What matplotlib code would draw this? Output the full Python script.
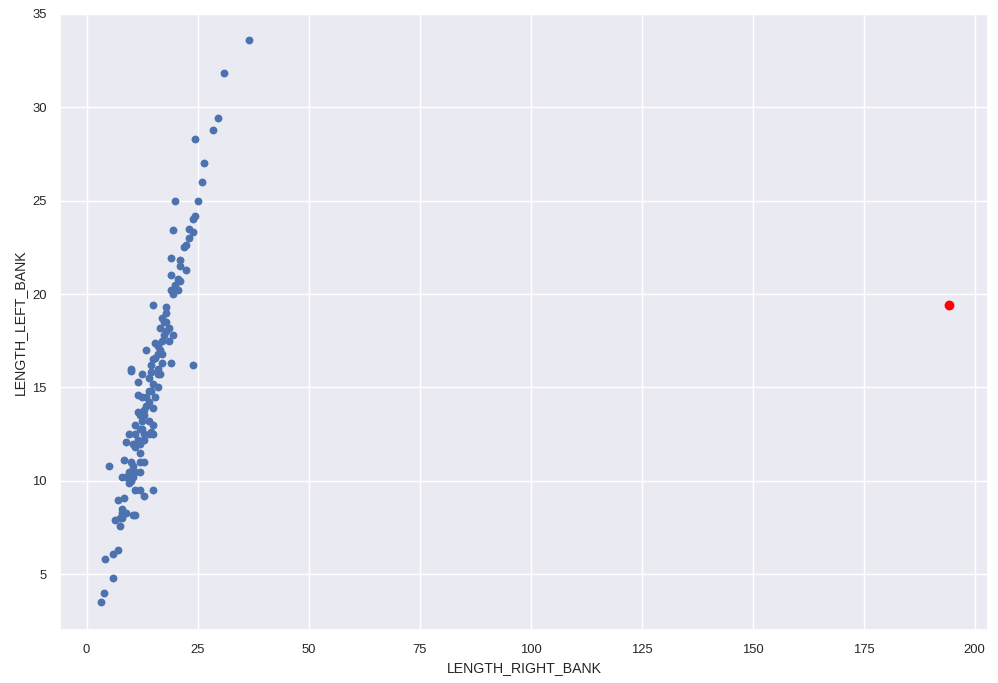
import matplotlib
matplotlib.use("Agg")
import matplotlib.pyplot as plt
import seaborn as sns

sns.set_theme(style="darkgrid", font_scale=0.85)
plt.rcParams['font.family'] = ['Liberation Sans', 'DejaVu Sans']

right_bank = [3.2,4,4.2,6,6,7,5,7,6.5,7.5,7.5,8,8,8.5,8,8.5,9,9,9.5,9.5,10,10,10,10,10.5,10.5,11,11,11,11.5,11.5,11.5,12,12,12,12.5,12,12.5,13,13,13,13,13.5,13.5,14,14,14.5,14.5,15,15,15,15,15.5,15.5,15.5,16,16,16,16.5,16.5,17,17,17.5,18,18,18.5,18.5,19,19,19,19,19.5,19.5,20,20,20.5,21,21,22,22.5,22.5,23,23,24,24,24,24.5,24.5,25,26,26.5,28.5,29.5,31,36.5,
              10,10.5,11,11,11.5,12,12.5,13,13.5,14,14,14.5,15,15,16,17,17.5,18,14,12,9.5,10.5,12.5,15,16,17,18,20.5,21,14.5,13,11,9,8,12,16.5,19.5]
left_bank = [3.5,4,5.8,4.8,6.1,6.3,10.8,9,7.9,7.6,8,8.3,8.5,9.1,10.2,11.1,10.2,12.1,12.5,9.9,10.5,11,15.9,16,8.2,10.8,8.2,12.5,13,13.7,15.3,14.6,9.5,12,11.5,15.7,10.5,12.8,9.2,11,12.2,13.5,14,17,14.8,15.5,15.8,16.2,9.5,12.5,13.9,19.4,14.5,16.6,17.4,15,16,15.7,17,18.2,16.8,18.7,17.8,18.5,19,17.5,18.2,16.3,20.2,21,21.9,23.4,20,20.5,25,20.8,21.5,21.8,22.5,22.6,21.3,23,23.5,16.2,23.3,24,24.2,28.3,25,26,27,28.8,29.4,31.8,33.6,
             10,10.2,10.5,11.8,12.2,12.8,13.2,13.8,14.5,13.2,14.2,14.8,15.2,16.5,16.8,17.5,18.5,18,12.5,11,10.5,12,14.5,13,17.2,16.3,19.3,20.2,20.7,12.6,12.5,9.5,8.3,8,13.5,15.7,17.8]
outlier_x = [194.3]
outlier_y = [19.4]

fig, ax = plt.subplots(figsize=(9.98, 6.83), dpi=100)
ax.scatter(right_bank, left_bank, s=32, color="#4c72b0", linewidths=0)
ax.scatter(outlier_x, outlier_y, s=50, color="red", linewidths=0)
ax.set_xlabel("LENGTH_RIGHT_BANK")
ax.set_ylabel("LENGTH_LEFT_BANK")
ax.set_xlim(-6, 203)
ax.set_ylim(2.0, 35.0)
ax.set_xticks([0,25,50,75,100,125,150,175,200])
ax.set_yticks([5,10,15,20,25,30,35])
plt.subplots_adjust(left=0.06, right=0.99, bottom=0.077, top=0.98)
fig.savefig("out.png", dpi=100)
